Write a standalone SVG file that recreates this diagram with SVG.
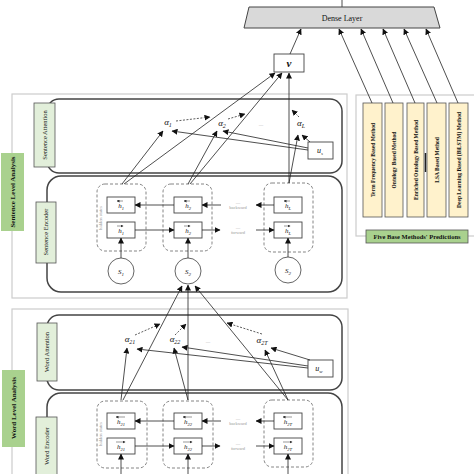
<svg xmlns="http://www.w3.org/2000/svg" width="474" height="474" viewBox="0 0 474 474">
<defs>
<marker id="ah" markerWidth="6" markerHeight="6" refX="5.5" refY="3" orient="auto" markerUnits="userSpaceOnUse"><path d="M0,0 L6,3 L0,6 Z" fill="#111"/></marker>
<marker id="sm" markerWidth="3" markerHeight="3" refX="2.5" refY="1.5" orient="auto" markerUnits="userSpaceOnUse"><path d="M0,0 L3,1.5 L0,3 Z" fill="#333"/></marker>
</defs>
<style>
.outer{fill:none;stroke:#ccc;stroke-width:1.2}
.inner{fill:none;stroke:#444;stroke-width:1.5}
.grn{fill:#a9d18e;stroke:none}
.lbl{fill:#e2efda;stroke:#555;stroke-width:0.8}
.ylw{fill:#fff2cc;stroke:#555;stroke-width:0.8}
.hid{fill:none;stroke:#666;stroke-width:0.8;stroke-dasharray:3,2}
.hb{fill:#fff;stroke:#444;stroke-width:0.9}
.cir{fill:#fff;stroke:#555;stroke-width:0.9}
.ln{stroke:#222;stroke-width:0.8;fill:none}
.dot{stroke:#333;stroke-width:0.8;stroke-dasharray:2,1.5;fill:none}
.ov{stroke:#333;stroke-width:0.5;fill:none}
.t{font-family:"Liberation Serif",serif;fill:#111}
.b{font-weight:bold}
.hl{font-size:7px;font-style:italic;text-anchor:middle}
.al{font-size:9px;font-style:italic;text-anchor:middle}
.g{font-family:"Liberation Serif",serif;fill:#999;font-size:4.5px;text-anchor:middle}
.rot{font-size:6.5px;text-anchor:middle}
</style>
<rect width="474" height="474" fill="#fff"/>

<g id="dense">
<line x1="342" y1="0" x2="342" y2="7" class="ln"/>
<polygon points="249,7 434,7 440,28 244,28" fill="#d9d9d9" stroke="#444" stroke-width="1"/>
<text x="342" y="21" class="t" font-size="8" text-anchor="middle">Dense Layer</text>
</g>

<g id="v">
<rect x="274" y="54" width="30" height="18" class="hb"/>
<text x="289" y="67" class="t b" font-size="11" font-style="italic" text-anchor="middle">v</text>
</g>

<g id="sentence-level">
<rect x="12" y="94" width="335" height="204" class="outer"/>
<rect x="1" y="153" width="23" height="78" class="grn"/>
<text class="t b" font-size="7" text-anchor="middle" transform="translate(15,192) rotate(-90)">Sentence Level Analysis</text>
</g>

<g id="sentence-attention">
<rect x="47" y="99" width="295" height="74" rx="12" class="inner"/>
<rect x="34" y="103" width="21" height="64" class="lbl"/>
<text class="t rot" transform="translate(47,135) rotate(-90)">Sentence Attention</text>
<text x="168" y="125" class="t al">α<tspan font-size="6" dy="2">1</tspan></text>
<text x="222" y="126" class="t al">α<tspan font-size="6" dy="2">2</tspan></text>
<text x="261" y="126" class="g">—</text>
<text x="301" y="126" class="t al">α<tspan font-size="6" dy="2">L</tspan></text>
<rect x="308" y="142" width="25" height="17" class="hb"/>
<text x="320" y="153" class="t" font-size="8" font-style="italic" text-anchor="middle">u<tspan font-size="5" dy="1.5">s</tspan></text>
</g>

<g id="sentence-encoder">
<rect x="47" y="176" width="295" height="116" rx="14" class="inner"/>
<rect x="36" y="202" width="20" height="61" class="lbl"/>
<text class="t rot" transform="translate(48,232) rotate(-90)">Sentence Encoder</text>
<rect x="97" y="184" width="49" height="67" rx="8" class="hid"/>
<rect x="163" y="184" width="49" height="67" rx="8" class="hid"/>
<rect x="264" y="183" width="49" height="69" rx="8" class="hid"/>
<text class="g" transform="translate(102,218) rotate(-90)">hidden states</text>
<rect x="107" y="197" width="28" height="16" class="hb"/>
<rect x="107" y="222" width="28" height="16" class="hb"/>
<rect x="174" y="197" width="28" height="16" class="hb"/>
<rect x="174" y="222" width="28" height="16" class="hb"/>
<rect x="274" y="197" width="28" height="16" class="hb"/>
<rect x="274" y="222" width="28" height="16" class="hb"/>
<text x="121" y="208" class="t hl">h<tspan font-size="4.5" dy="1.5">1</tspan></text>
<text x="121" y="233" class="t hl">h<tspan font-size="4.5" dy="1.5">1</tspan></text>
<text x="188" y="208" class="t hl">h<tspan font-size="4.5" dy="1.5">2</tspan></text>
<text x="188" y="233" class="t hl">h<tspan font-size="4.5" dy="1.5">2</tspan></text>
<text x="288" y="208" class="t hl">h<tspan font-size="4.5" dy="1.5">L</tspan></text>
<text x="288" y="233" class="t hl">h<tspan font-size="4.5" dy="1.5">L</tspan></text>
<line x1="123" y1="201" x2="117" y2="201" class="ov" marker-end="url(#sm)"/>
<line x1="117" y1="226" x2="123" y2="226" class="ov" marker-end="url(#sm)"/>
<line x1="190" y1="201" x2="184" y2="201" class="ov" marker-end="url(#sm)"/>
<line x1="184" y1="226" x2="190" y2="226" class="ov" marker-end="url(#sm)"/>
<line x1="290" y1="201" x2="284" y2="201" class="ov" marker-end="url(#sm)"/>
<line x1="284" y1="226" x2="290" y2="226" class="ov" marker-end="url(#sm)"/>
<text x="238" y="204" class="g">—</text>
<text x="238" y="209" class="g">backward</text>
<text x="238" y="229" class="g">—</text>
<text x="238" y="234" class="g">forward</text>
<circle cx="121" cy="271" r="13" class="cir"/>
<circle cx="188" cy="271" r="13" class="cir"/>
<circle cx="288" cy="270" r="13" class="cir"/>
<text x="121" y="274" class="t hl" font-size="8">S<tspan font-size="5" dy="1.5">1</tspan></text>
<text x="188" y="274" class="t hl" font-size="8">S<tspan font-size="5" dy="1.5">2</tspan></text>
<text x="288" y="273" class="t hl" font-size="8">S<tspan font-size="5" dy="1.5">2</tspan></text>
</g>

<g id="word-level">
<rect x="12" y="309" width="336" height="180" class="outer"/>
<rect x="2" y="370" width="23" height="77" class="grn"/>
<text class="t b" font-size="7" text-anchor="middle" transform="translate(16,408) rotate(-90)">Word Level Analysis</text>
</g>

<g id="word-attention">
<rect x="47" y="315" width="295" height="75" rx="12" class="inner"/>
<rect x="37" y="323" width="20" height="58" class="lbl"/>
<text class="t rot" transform="translate(49,352) rotate(-90)">Word Attention</text>
<text x="130" y="342" class="t al">α<tspan font-size="6" dy="2">21</tspan></text>
<text x="175" y="342" class="t al">α<tspan font-size="6" dy="2">22</tspan></text>
<text x="208" y="343" class="g">—</text>
<text x="262" y="343" class="t al">α<tspan font-size="6" dy="2">2T</tspan></text>
<rect x="308" y="360" width="25" height="17" class="hb"/>
<text x="319" y="371" class="t" font-size="8" font-style="italic" text-anchor="middle">u<tspan font-size="5" dy="1.5">w</tspan></text>
</g>

<g id="word-encoder">
<rect x="47" y="393" width="295" height="100" rx="14" class="inner"/>
<rect x="36" y="417" width="21" height="70" class="lbl"/>
<text class="t rot" transform="translate(49,446) rotate(-90)">Word Encoder</text>
<rect x="97" y="401" width="50" height="67" rx="8" class="hid"/>
<rect x="163" y="401" width="50" height="67" rx="8" class="hid"/>
<rect x="264" y="400" width="49" height="67" rx="8" class="hid"/>
<text class="g" transform="translate(102,434) rotate(-90)">hidden states</text>
<rect x="107" y="413" width="28" height="16" class="hb"/>
<rect x="107" y="438" width="28" height="16" class="hb"/>
<rect x="174" y="413" width="28" height="16" class="hb"/>
<rect x="174" y="438" width="28" height="16" class="hb"/>
<rect x="274" y="413" width="28" height="16" class="hb"/>
<rect x="274" y="438" width="28" height="16" class="hb"/>
<text x="121" y="424" class="t hl">h<tspan font-size="4.5" dy="1.5">21</tspan></text>
<text x="121" y="449" class="t hl">h<tspan font-size="4.5" dy="1.5">21</tspan></text>
<text x="188" y="424" class="t hl">h<tspan font-size="4.5" dy="1.5">22</tspan></text>
<text x="188" y="449" class="t hl">h<tspan font-size="4.5" dy="1.5">22</tspan></text>
<text x="288" y="424" class="t hl">h<tspan font-size="4.5" dy="1.5">2T</tspan></text>
<text x="288" y="449" class="t hl">h<tspan font-size="4.5" dy="1.5">2T</tspan></text>
<line x1="125" y1="417" x2="116" y2="417" class="ov" marker-end="url(#sm)"/>
<line x1="116" y1="442" x2="125" y2="442" class="ov" marker-end="url(#sm)"/>
<line x1="192" y1="417" x2="183" y2="417" class="ov" marker-end="url(#sm)"/>
<line x1="183" y1="442" x2="192" y2="442" class="ov" marker-end="url(#sm)"/>
<line x1="292" y1="417" x2="283" y2="417" class="ov" marker-end="url(#sm)"/>
<line x1="283" y1="442" x2="292" y2="442" class="ov" marker-end="url(#sm)"/>
<text x="238" y="420" class="g">—</text>
<text x="238" y="425" class="g">backward</text>
<text x="238" y="445" class="g">—</text>
<text x="238" y="450" class="g">forward</text>
</g>

<g id="base-methods">
<rect x="356" y="95" width="125" height="141" class="outer"/>
<rect x="363" y="103" width="19" height="114" class="ylw"/>
<rect x="385" y="103" width="18" height="114" class="ylw"/>
<rect x="407" y="103" width="17" height="114" class="ylw"/>
<rect x="427" y="103" width="19" height="114" class="ylw"/>
<rect x="449" y="103" width="19" height="114" class="ylw"/>
<text class="t b" font-size="5.5" text-anchor="middle" transform="translate(374.5,160) rotate(-90)">Term Frequency Based Method</text>
<text class="t b" font-size="5.5" text-anchor="middle" transform="translate(396,160) rotate(-90)">Ontology Based Method</text>
<text class="t b" font-size="5.5" text-anchor="middle" transform="translate(417.5,160) rotate(-90)">Enriched Ontology Based Method</text>
<text class="t b" font-size="5.5" text-anchor="middle" transform="translate(438.5,160) rotate(-90)">LSA Based Method</text>
<text class="t b" font-size="5.5" text-anchor="middle" transform="translate(460.5,160) rotate(-90)">Deep Learning Based (BiLSTM) Method</text>
<line x1="425.5" y1="153" x2="425.5" y2="172" stroke="#222" stroke-width="1.5"/>
<rect x="366" y="230" width="102" height="13" fill="#a9d18e" stroke="#555" stroke-width="0.8"/>
<text x="417" y="239" class="t b" font-size="6.5" text-anchor="middle">Five Base Methods' Predictions</text>
</g>

<g id="connectors">
<line x1="290" y1="54" x2="301" y2="29" class="ln" marker-end="url(#ah)"/>
<line x1="372" y1="103" x2="339" y2="29" class="ln" marker-end="url(#ah)"/>
<line x1="393" y1="103" x2="361" y2="29" class="ln" marker-end="url(#ah)"/>
<line x1="415" y1="103" x2="383" y2="29" class="ln" marker-end="url(#ah)"/>
<line x1="437" y1="103" x2="404" y2="29" class="ln" marker-end="url(#ah)"/>
<line x1="458" y1="103" x2="426" y2="29" class="ln" marker-end="url(#ah)"/>

<line x1="122" y1="184" x2="163" y2="131" class="ln" marker-end="url(#ah)"/>
<line x1="124" y1="184" x2="275" y2="73" class="ln" marker-end="url(#ah)"/>
<line x1="188" y1="184" x2="217" y2="131" class="ln" marker-end="url(#ah)"/>
<line x1="190" y1="184" x2="282" y2="73" class="ln" marker-end="url(#ah)"/>
<line x1="289" y1="183" x2="289" y2="73" class="ln" marker-end="url(#ah)"/>
<line x1="289" y1="183" x2="298" y2="135" class="ln" marker-end="url(#ah)"/>
<line x1="308" y1="150" x2="172" y2="131" class="ln" marker-end="url(#ah)"/>
<line x1="308" y1="148" x2="223" y2="131" class="ln" marker-end="url(#ah)"/>
<line x1="310" y1="142" x2="302" y2="135" class="ln" marker-end="url(#ah)"/>
<line x1="176" y1="121" x2="210" y2="117" class="dot" marker-end="url(#ah)"/>
<line x1="228" y1="119" x2="245" y2="114" class="dot" marker-end="url(#ah)"/>
<line x1="299" y1="117" x2="292" y2="110" class="dot" marker-end="url(#ah)"/>

<line x1="121" y1="258" x2="121" y2="238" class="ln" marker-end="url(#ah)"/>
<line x1="188" y1="258" x2="188" y2="238" class="ln" marker-end="url(#ah)"/>
<line x1="288" y1="257" x2="288" y2="238" class="ln" marker-end="url(#ah)"/>
<line x1="135" y1="230" x2="174" y2="230" class="ln" marker-end="url(#ah)"/>
<line x1="202" y1="230" x2="220" y2="230" class="ln" marker-end="url(#ah)"/>
<line x1="256" y1="230" x2="274" y2="230" class="ln" marker-end="url(#ah)"/>
<line x1="274" y1="205" x2="256" y2="205" class="ln" marker-end="url(#ah)"/>
<line x1="221" y1="205" x2="202" y2="205" class="ln" marker-end="url(#ah)"/>
<line x1="174" y1="205" x2="135" y2="205" class="ln" marker-end="url(#ah)"/>

<line x1="121" y1="400" x2="127" y2="348" class="ln" marker-end="url(#ah)"/>
<line x1="123" y1="400" x2="182" y2="286" class="ln" marker-end="url(#ah)"/>
<line x1="188" y1="400" x2="174" y2="348" class="ln" marker-end="url(#ah)"/>
<line x1="188" y1="400" x2="188" y2="285" class="ln" marker-end="url(#ah)"/>
<line x1="288" y1="400" x2="265" y2="350" class="ln" marker-end="url(#ah)"/>
<line x1="288" y1="400" x2="195" y2="286" class="ln" marker-end="url(#ah)"/>
<line x1="308" y1="368" x2="137" y2="349" class="ln" marker-end="url(#ah)"/>
<line x1="308" y1="366" x2="182" y2="347" class="ln" marker-end="url(#ah)"/>
<line x1="310" y1="360" x2="271" y2="348" class="ln" marker-end="url(#ah)"/>
<line x1="135" y1="335" x2="160" y2="324" class="dot" marker-end="url(#ah)"/>
<line x1="175" y1="335" x2="186" y2="324" class="dot" marker-end="url(#ah)"/>
<line x1="262" y1="334" x2="227" y2="323" class="dot" marker-end="url(#ah)"/>

<line x1="121" y1="474" x2="121" y2="454" class="ln" marker-end="url(#ah)"/>
<line x1="188" y1="474" x2="188" y2="454" class="ln" marker-end="url(#ah)"/>
<line x1="288" y1="474" x2="288" y2="454" class="ln" marker-end="url(#ah)"/>
<line x1="135" y1="446" x2="174" y2="446" class="ln" marker-end="url(#ah)"/>
<line x1="202" y1="446" x2="220" y2="446" class="ln" marker-end="url(#ah)"/>
<line x1="256" y1="446" x2="274" y2="446" class="ln" marker-end="url(#ah)"/>
<line x1="274" y1="421" x2="256" y2="421" class="ln" marker-end="url(#ah)"/>
<line x1="221" y1="421" x2="202" y2="421" class="ln" marker-end="url(#ah)"/>
<line x1="174" y1="421" x2="135" y2="421" class="ln" marker-end="url(#ah)"/>
</g>
</svg>
